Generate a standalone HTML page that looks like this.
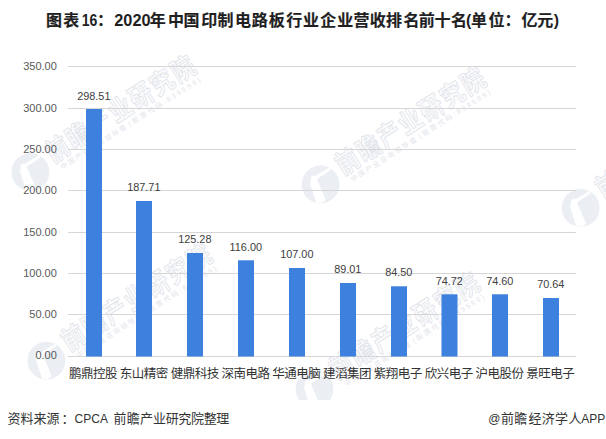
<!DOCTYPE html>
<html lang="zh-CN">
<head>
<meta charset="utf-8">
<title>图表16：2020年中国印制电路板行业企业营收排名前十名(单位：亿元)</title>
<style>
html,body{margin:0;padding:0;background:#fff;}
body{width:606px;height:439px;overflow:hidden;font-family:"Liberation Sans",sans-serif;}
svg{display:block;}
</style>
</head>
<body>
<svg width="606" height="439" viewBox="0 0 606 439" role="img" aria-label="图表16：2020年中国印制电路板行业企业营收排名前十名(单位：亿元)">
<desc>柱状图：鹏鼎控股 298.51，东山精密 187.71，健鼎科技 125.28，深南电路 116.00，华通电脑 107.00，建滔集团 89.01，紫翔电子 84.50，欣兴电子 74.72，沪电股份 74.60，景旺电子 70.64。资料来源：CPCA 前瞻产业研究院整理 @前瞻经济学人APP</desc>
<defs>
<g id="wm">
<circle r="18.9" fill="#ebeef3"/>
<g fill="#fff" stroke="none">
<circle cx="-6.6" cy="-5.6" r="3.2"/>
<path d="M-7 -7.4 L8.8 -16.9 L10.2 -14.6 L-5 -4.6Z"/>
<path d="M-11 -2.6 L-3.6 -5.2 L5.4 15.6 L1 18.8 L-4.4 18.4Z"/>
</g>
<g transform="rotate(-32.5)">
<g fill="#fbfcfd" stroke="#dfe3ea" stroke-width="0.7" stroke-linejoin="round">
<text transform="scale(1 1.18)" x="23.75 48.55 73.35 98.15 122.95 147.75 172.55" y="3.98" font-family="'Liberation Sans', 'Noto Sans CJK SC', sans-serif" font-weight="bold" font-size="23px">前瞻产业研究院</text>
</g>
<g fill="#e2e5eb">
<text x="28.3 37 45.7 54.4 63.1 71.8 80.5 89.2 97.9 108.6 113.19 122.29 131.39 140.49 149.59 153.78 159.87 165.96 172.05 178.14 184.23 190.32" y="15.10" font-family="'Liberation Sans', 'Noto Sans CJK SC', sans-serif" font-size="7px">中国产业咨询领导者(股票代码:839599)</text>
<!-- end 194.9 -->
</g>
</g></g>
<clipPath id="chartclip"><rect x="0" y="0" width="606" height="400"/></clipPath>
</defs>
<rect width="606" height="439" fill="#fff"/>
<!--WM-->
<g clip-path="url(#chartclip)">
<use href="#wm" transform="translate(30.4 172.2)"/>
<use href="#wm" transform="translate(320.5 184.5)"/>
<use href="#wm" transform="translate(580.7 207.9)"/>
<use href="#wm" transform="translate(46.4 360.7)"/>
<use href="#wm" transform="translate(314.5 389)"/>
</g>
<g stroke="#d6d6d6" stroke-width="1" shape-rendering="crispEdges">
<line x1="68" x2="576" y1="356.5" y2="356.5"/>
<line x1="68" x2="576" y1="314.5" y2="314.5"/>
<line x1="68" x2="576" y1="273.5" y2="273.5"/>
<line x1="68" x2="576" y1="232.5" y2="232.5"/>
<line x1="68" x2="576" y1="190.5" y2="190.5"/>
<line x1="68" x2="576" y1="149.5" y2="149.5"/>
<line x1="68" x2="576" y1="108.5" y2="108.5"/>
<line x1="68" x2="576" y1="66.5" y2="66.5"/>
</g>
<g fill="#3d80dd">
<rect x="86" y="109" width="16" height="247.5"/>
<rect x="136" y="201" width="16" height="155.5"/>
<rect x="187" y="253" width="16" height="103.5"/>
<rect x="238" y="260.3" width="16" height="96.2"/>
<rect x="289" y="268" width="16" height="88.5"/>
<rect x="340" y="283" width="16" height="73.5"/>
<rect x="391" y="286.3" width="16" height="70.2"/>
<rect x="441.5" y="294.3" width="16" height="62.2"/>
<rect x="492" y="294.3" width="16" height="62.2"/>
<rect x="543" y="298" width="16" height="58.5"/>
</g>
<g font-family="'Liberation Sans', sans-serif" font-size="10.9px" fill="#404040" text-anchor="middle">
<text x="93.8" y="99.8">298.51</text>
<text x="143.8" y="190.8">187.71</text>
<text x="194.8" y="242.5">125.28</text>
<text x="245.8" y="250.8">116.00</text>
<text x="296.8" y="257.6">107.00</text>
<text x="347.8" y="273.0">89.01</text>
<text x="398.8" y="276.4">84.50</text>
<text x="449.3" y="284.6">74.72</text>
<text x="499.8" y="284.6">74.60</text>
<text x="550.8" y="287.5">70.64</text>
</g>
<g font-family="'Liberation Sans', sans-serif" font-size="11px" fill="#595959" text-anchor="end">
<text x="56.8" y="358.7">0.00</text>
<text x="56.8" y="318.1">50.00</text>
<text x="56.8" y="277.1">100.00</text>
<text x="56.8" y="236.1">150.00</text>
<text x="56.8" y="194.1">200.00</text>
<text x="56.8" y="153.1">250.00</text>
<text x="56.8" y="112.1">300.00</text>
<text x="56.8" y="70.1">350.00</text>
</g>
<g fill="#333" font-family="'Liberation Sans', 'Noto Sans CJK SC', sans-serif" font-size="12.5px">
<text x="69.05 81.05 93.05 105.05" y="377.5">鹏鼎控股</text>
<text x="119.85 131.85 143.85 155.85" y="377.5">东山精密</text>
<text x="170.65 182.65 194.65 206.65" y="377.5">健鼎科技</text>
<text x="221.45 233.45 245.45 257.45" y="377.5">深南电路</text>
<text x="272.25 284.25 296.25 308.25" y="377.5">华通电脑</text>
<text x="323.05 335.05 347.05 359.05" y="377.5">建滔集团</text>
<text x="373.85 385.85 397.85 409.85" y="377.5">紫翔电子</text>
<text x="424.65 436.65 448.65 460.65" y="377.5">欣兴电子</text>
<text x="475.45 487.45 499.45 511.45" y="377.5">沪电股份</text>
<text x="526.25 538.25 550.25 562.25" y="377.5">景旺电子</text>
</g>
<g fill="#1f1f1f" stroke="#1f1f1f" stroke-width="0.19" font-family="'Liberation Sans', 'Noto Sans CJK SC', sans-serif" font-weight="bold" font-size="16px">
<text x="46.08 63.37" y="26">图表</text>
<text x="96.95" y="26">：</text>
<text x="149.82 168.08 183.57 201.26 217.48 235.07 251.75 268.84 286.14 303.03 320.28 337.28 353.53 369.70 386.06 403.50 418.80 434.58 450.95" y="26">年中国印制电路板行业企业营收排名前十名</text>
<text x="470.88 488.61 504.55 521.39 537.25" y="26">单位：亿元</text>
</g>
<g font-family="'Liberation Sans', sans-serif" font-weight="bold" font-size="16px" fill="#1f1f1f" text-anchor="middle">
<text x="89.6" y="26" textLength="15.6" lengthAdjust="spacingAndGlyphs">16</text>
<text x="132.4" y="26" textLength="36.3" lengthAdjust="spacingAndGlyphs">2020</text>
<text x="468.6" y="26">(</text>
<text x="556.5" y="26">)</text>
</g>
<g fill="#333" font-family="'Liberation Sans', 'Noto Sans CJK SC', sans-serif" font-size="13px">
<text x="7.40 20.45 33.50 46.55 61.55" y="423.3">资料来源：</text>
<text x="113.59 126.82 139.95 152.89 165.86 178.20 190.90 203.68 216.30" y="423.3">前瞻产业研究院整理</text>
<text x="500.99 514.32 528.61 541.80 555.07 568.55" y="423.3">前瞻经济学人</text>
</g>
<g font-family="'Liberation Sans', sans-serif" font-size="12px" fill="#333">
<text x="74.6" y="422.9">CPCA</text>
<text x="488.2" y="422.9">@</text>
<text x="581.3" y="422.9">APP</text>
</g>
</svg>
</body>
</html>
